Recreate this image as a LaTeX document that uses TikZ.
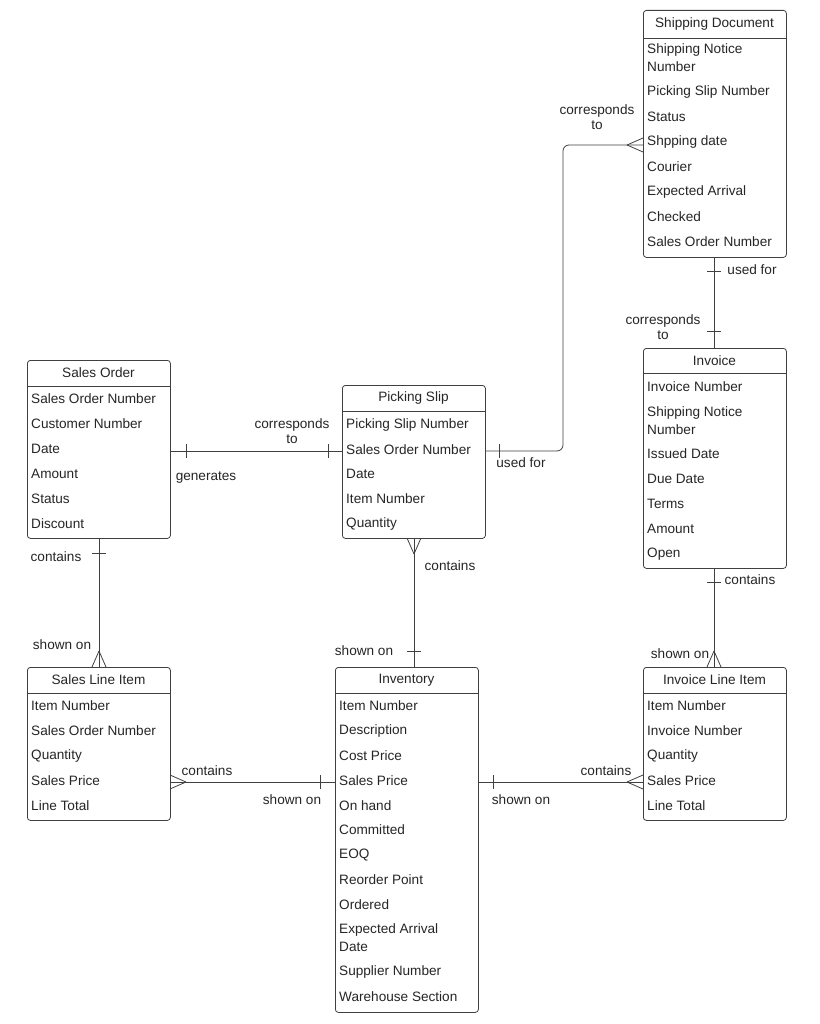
\documentclass[tikz,border=0pt]{standalone}
\usepackage{fontspec}
\setmainfont{Liberation Sans}
\begin{document}
\begin{tikzpicture}[x=1pt,y=-1pt,
  box/.style={draw=black!75,line width=0.8pt,rounded corners=3pt,anchor=north west,inner sep=0pt},
  txt/.style={anchor=west,inner sep=0pt,font=\fontsize{13.6}{18}\selectfont,text=black!85,align=left},
  ttl/.style={inner sep=0pt,font=\fontsize{13.6}{18}\selectfont,text=black!85},
  lbl/.style={inner sep=0pt,font=\fontsize{13.6}{15}\selectfont,text=black!85,align=center},
  ln/.style={draw=black!75,line width=0.8pt}]
\useasboundingbox (0,0) rectangle (819,1024);
\fill[white] (0,0) rectangle (819,1024);
% entity macro
\newcommand{\entity}[8]{%
  \node[box,minimum width=#4-#2,minimum height=#5-#3] (#1) at (#2,#3) {};
  \draw[ln] (#2,#6) -- (#4,#6);
  \node[ttl] (#1t) at ({(#2+#4)/2},{(#3+#6)/2}) {#7};
  \foreach \yy/\tt [count=\i] in {#8} {\node[txt] (#1r\i) at (#2+4,\yy) {\tt};}
}
\entity{sd}{643}{10}{786}{257}{38}{Shipping Document}{58/{Shipping Notice\\Number},92/Picking Slip Number,117/Status,142/Shpping date,167/Courier,192/Expected Arrival,217/Checked/shipped by,242/Sales Order Number}
\entity{inv}{643}{348}{786}{568}{373}{Invoice}{387/Invoice Number,421/{Shipping Notice\\Number},454/Issued Date,479/Due Date,504/Terms,529/Amount,554/Open}
\entity{so}{27}{360}{170}{538}{386}{Sales Order}{399/Sales Order Number,424/Customer Number,449/Date,474/Amount,499/Status,524/Discount}
\entity{ps}{342}{385}{485}{538}{411}{Picking Slip}{425/Picking Slip Number,450/Sales Order Number,474/Date,499/Item Number,524/Quantity}
\entity{sli}{27}{667}{170}{820}{693}{Sales Line Item}{706/Item Number,731/Sales Order Number,756/Quantity,781/Sales Price,806/Line Total}
\entity{iv}{335}{667}{478}{1012}{693}{Inventory}{706/Item Number,731/Description,756/Cost Price,781/Sales Price,806/On hand,830/Committed,855/EOQ,880/Reorder Point,905/Ordered,938/{Expected Arrival\\Date},972/Supplier Number,997/Warehouse Section}
\entity{ili}{643}{667}{786}{820}{693}{Invoice Line Item}{706/Item Number,731/Invoice Number,756/Quantity,781/Sales Price,806/Line Total}
% connectors
\coordinate (a1) at (170,451); \coordinate (a2) at (342,451);
\draw[ln] (a1) -- (a2);
\draw[ln] (186,444) -- (186,458); \draw[ln] (328,444) -- (328,458);
\node[lbl] (l1) at (206,478) {generates};
\node[lbl] (l2) at (292,431) {corresponds\\to};
% picking -> shipping
\coordinate (b1) at (485,451); \coordinate (b2) at (643,145);
\draw[ln,rounded corners=6pt] (b1) -- (563,451) -- (563,145) -- (b2);
\draw[ln] (499,444) -- (499,458);
\draw[ln] (627,145) -- (643,138); \draw[ln] (627,145) -- (643,152);
\node[lbl] (l3) at (521,463) {used for};
\node[lbl] (l4) at (597,117) {corresponds\\to};
% shipping -> invoice
\coordinate (c1) at (714,257); \coordinate (c2) at (714,348);
\draw[ln] (c1) -- (c2);
\draw[ln] (707,271) -- (721,271); \draw[ln] (707,331) -- (721,331);
\node[lbl] (l5) at (752,270) {used for};
\node[lbl] (l6) at (663,327) {corresponds\\to};
% sales order -> sales line item
\coordinate (d1) at (99,538); \coordinate (d2) at (99,667);
\draw[ln] (d1) -- (d2);
\draw[ln] (92,553) -- (106,553);
\draw[ln] (99,651) -- (92,667); \draw[ln] (99,651) -- (106,667);
\node[lbl] (l7) at (56,557) {contains};
\node[lbl] (l8) at (62,645) {shown on};
% picking -> inventory
\coordinate (e1) at (414,538); \coordinate (e2) at (414,667);
\draw[ln] (e1) -- (e2);
\draw[ln] (414,554) -- (407,538); \draw[ln] (414,554) -- (421,538);
\draw[ln] (407,651) -- (421,651);
\node[lbl] (l9) at (450,566) {contains};
\node[lbl] (l10) at (364,651) {shown on};
% invoice -> invoice line item
\coordinate (f1) at (714,568); \coordinate (f2) at (714,667);
\draw[ln] (f1) -- (f2);
\draw[ln] (707,582) -- (721,582);
\draw[ln] (714,651) -- (707,667); \draw[ln] (714,651) -- (721,667);
\node[lbl] (l11) at (750,580) {contains};
\node[lbl] (l12) at (680,654) {shown on};
% sales line item -> inventory
\coordinate (g1) at (170,782); \coordinate (g2) at (335,782);
\draw[ln] (g1) -- (g2);
\draw[ln] (186,782) -- (170,775); \draw[ln] (186,782) -- (170,789);
\draw[ln] (320,775) -- (320,789);
\node[lbl] (l13) at (207,771) {contains};
\node[lbl] (l14) at (292,800) {shown on};
% inventory -> invoice line item
\coordinate (h1) at (478,782); \coordinate (h2) at (643,782);
\draw[ln] (h1) -- (h2);
\draw[ln] (493,775) -- (493,789);
\draw[ln] (627,782) -- (643,775); \draw[ln] (627,782) -- (643,789);
\node[lbl] (l15) at (521,800) {shown on};
\node[lbl] (l16) at (606,771) {contains};
\end{tikzpicture}
\end{document}
